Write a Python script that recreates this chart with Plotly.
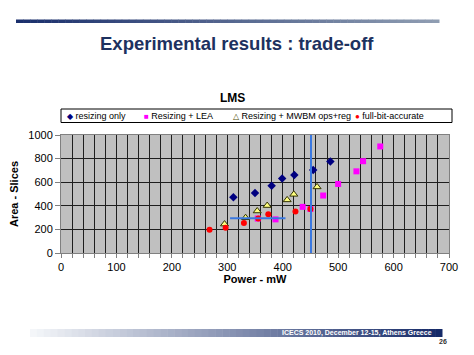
import plotly.graph_objects as go

# ---------------- data ----------------
resizing_only_x = [311, 350, 380, 399, 421, 455, 486]
resizing_only_y = [473, 508, 570, 632, 661, 704, 775]

lea_x = [355, 387, 436, 450, 473, 500, 533, 545, 576]
lea_y = [292, 285, 391, 373, 487, 585, 692, 778, 903]

mwbm_x = [295, 333, 354, 372, 408, 420, 462]
mwbm_y = [245, 299, 356, 402, 450, 497, 560]

full_x = [268, 297, 330, 356, 374, 423, 450]
full_y = [197, 215, 255, 292, 328, 352, 373]

hline_x = [305, 405]
hline_y = [295, 295]
vline_x = [451, 451]
vline_y = [0, 1000]

series_names = ["resizing only", "Resizing + LEA", "Resizing + MWBM ops+reg", "full-bit-accurate"]

FONT = "Liberation Sans, Arial, sans-serif"

# screen pixel -> paper helpers (plot area on screen 61..449 x 135..253)
OFF = 8  # page body margin
L, R, T, B = 61, 449, 135, 253
def px(x):
    return (x - L) / (R - L)
def py(y):
    return (B - y) / (B - T)

def lerp_color(c1, c2, t):
    a = [int(c1[i:i + 2], 16) for i in (1, 3, 5)]
    b = [int(c2[i:i + 2], 16) for i in (1, 3, 5)]
    return "rgb(%d,%d,%d)" % tuple(round(a[k] + (b[k] - a[k]) * t) for k in range(3))

fig = go.Figure()

fig.add_trace(go.Scatter(x=resizing_only_x, y=resizing_only_y, mode="markers", name=series_names[0],
                         marker=dict(symbol="diamond", size=6.5, color="#000080", line=dict(width=0))))
fig.add_trace(go.Scatter(x=lea_x, y=lea_y, mode="markers", name=series_names[1],
                         marker=dict(symbol="square", size=6, color="#ff00ff", line=dict(width=0))))
fig.add_trace(go.Scatter(x=mwbm_x, y=mwbm_y, mode="markers", name=series_names[2],
                         marker=dict(symbol="triangle-up", size=7, color="#ffff80",
                                     line=dict(width=1, color="#333300"))))
fig.add_trace(go.Scatter(x=full_x, y=full_y, mode="markers", name=series_names[3],
                         marker=dict(symbol="circle", size=6, color="#ff0000", line=dict(width=0))))
fig.add_trace(go.Scatter(x=hline_x, y=hline_y, mode="lines", showlegend=False,
                         line=dict(color="#3a78e0", width=2)))
fig.add_trace(go.Scatter(x=vline_x, y=vline_y, mode="lines", showlegend=False,
                         line=dict(color="#3a78e0", width=2)))

shapes = []
# top gradient rule
n = 60
x0, x1 = 16, 439
for i in range(n):
    a = x0 + (x1 - x0) * i / n
    b = x0 + (x1 - x0) * (i + 1) / n + 0.5
    shapes.append(dict(type="rect", xref="paper", yref="paper", x0=px(a), x1=px(b),
                       y0=py(23), y1=py(19.5), line=dict(width=0),
                       fillcolor=lerp_color("#1a2f6c", "#8f9db2", i / (n - 1))))
# footer gradient band
x0, x1 = 30, 442
for i in range(n):
    a = x0 + (x1 - x0) * i / n
    b = x0 + (x1 - x0) * (i + 1) / n + 0.5
    shapes.append(dict(type="rect", xref="paper", yref="paper", x0=px(a), x1=px(b),
                       y0=py(337), y1=py(329), line=dict(width=0),
                       fillcolor=lerp_color("#f4f6f9", "#152a68", i / (n - 1))))
# legend box
shapes.append(dict(type="rect", xref="paper", yref="paper", x0=px(61), x1=px(452),
                   y0=py(122.5), y1=py(109), line=dict(width=1, color="#000000"),
                   fillcolor="#ffffff"))

annotations = [
    dict(text="<b>Experimental results : trade-off</b>", x=px(237), y=py(43), xref="paper", yref="paper",
         showarrow=False, font=dict(family=FONT, size=18.5, color="#1d3160"), xanchor="center", yanchor="middle"),
    dict(text="<b>LMS</b>", x=px(232), y=py(98), xref="paper", yref="paper",
         showarrow=False, font=dict(family=FONT, size=12, color="#000000"), xanchor="center", yanchor="middle"),
    dict(text="<b>ICECS 2010, December 12-15, Athens Greece</b>", x=px(434), y=py(333), xref="paper",
         yref="paper", showarrow=False, font=dict(family=FONT, size=7, color="#ffffff"),
         xanchor="right", yanchor="middle"),
    dict(text="<b>26</b>", x=px(443), y=py(341.5), xref="paper", yref="paper", showarrow=False,
         font=dict(family=FONT, size=7, color="#333333"), xanchor="center", yanchor="middle"),
]

# manual legend entries (symbol + label)
leg_items = [
    ("◆", "#000080", series_names[0], 65),
    ("■", "#ff00ff", series_names[1], 142),
    ("△", "#4a4a00", series_names[2], 231),
    ("●", "#ff0000", series_names[3], 353),
]
for sym, col, name, xpos in leg_items:
    annotations.append(dict(
        text="<span style='color:%s;font-size:8px'>%s</span> %s" % (col, sym, name),
        x=px(xpos), y=py(116), xref="paper", yref="paper", showarrow=False,
        font=dict(family=FONT, size=9, color="#000000"), xanchor="left", yanchor="middle"))

ml = L - OFF
mt = T - OFF
fig.update_layout(
    width=474, height=355,
    margin=dict(l=ml, r=474 - ml - (R - L), t=mt, b=355 - mt - (B - T), pad=0, autoexpand=False),
    paper_bgcolor="#ffffff", plot_bgcolor="#c0c0c0",
    showlegend=False,
    font=dict(family=FONT, size=11, color="#000000"),
    shapes=shapes, annotations=annotations,
    xaxis=dict(range=[0, 700], dtick=100, tick0=0, showgrid=True, gridcolor="#1e1e1e", gridwidth=1,
               ticks="outside", ticklen=4, tickcolor="#808080", zeroline=False,
               showline=True, linecolor="#808080", mirror=True, automargin=False,
               minor=dict(dtick=20, showgrid=True, gridcolor="#1e1e1e", gridwidth=1,
                          ticks="outside", ticklen=4, tickcolor="#808080"),
               tickfont=dict(family=FONT, size=11, color="#000000"),
               title=dict(text="<b>Power - mW</b>", standoff=0,
                          font=dict(family=FONT, size=11, color="#000000"))),
    yaxis=dict(range=[0, 1000], dtick=200, tick0=0, showgrid=True, gridcolor="#1e1e1e", gridwidth=1,
               ticks="outside", ticklen=5, tickcolor="#808080", zeroline=False,
               showline=True, linecolor="#808080", mirror=True, automargin=False,
               tickfont=dict(family=FONT, size=11, color="#000000"),
               title=dict(text="<b>Area - Slices</b>", standoff=12,
                          font=dict(family=FONT, size=11, color="#000000"))),
)

fig.write_html("out.html")
